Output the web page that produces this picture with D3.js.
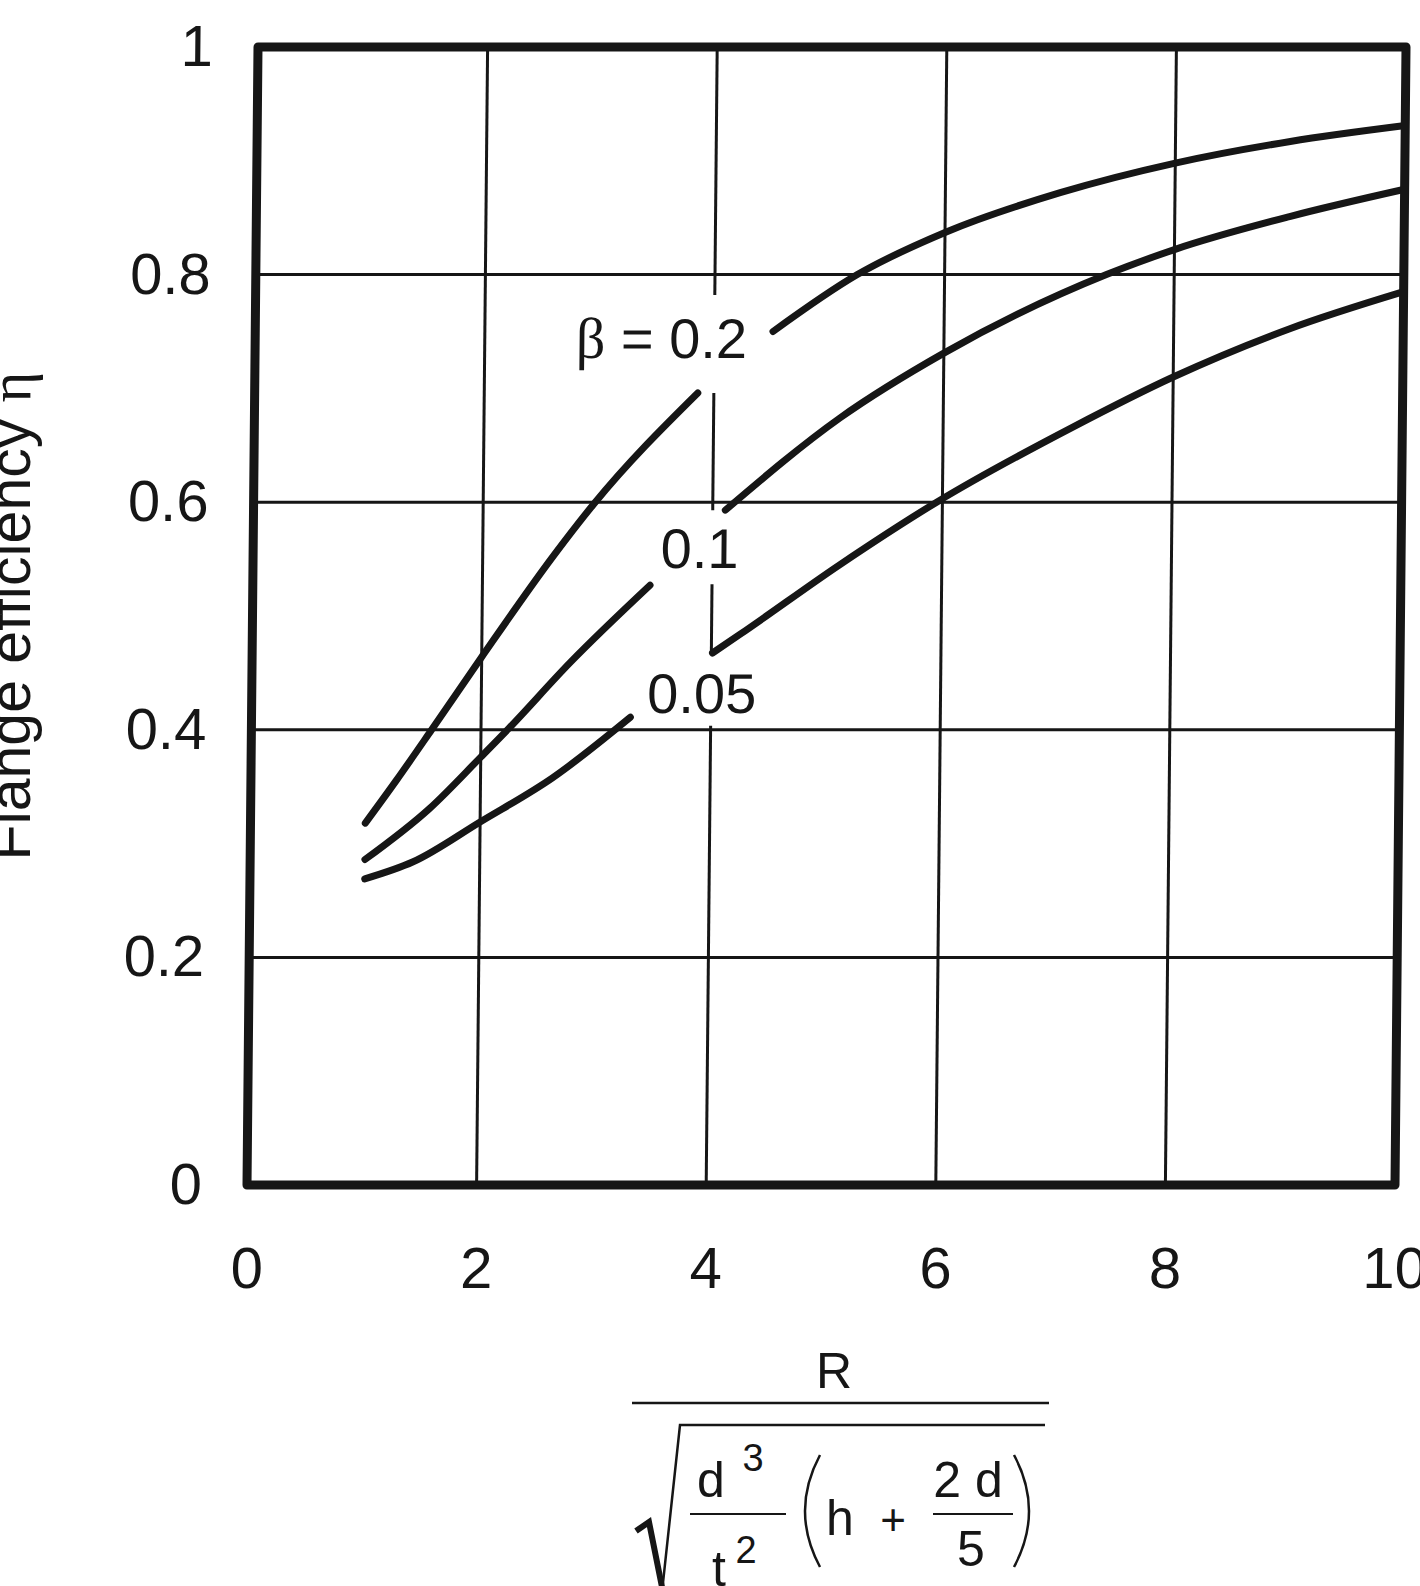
<!DOCTYPE html>
<html>
<head>
<meta charset="utf-8">
<script src="https://cdn.jsdelivr.net/npm/d3@7"></script>
<style>
  html, body { margin: 0; padding: 0; background: #fff; }
  svg { display: block; }
</style>
</head>
<body>
<div id="chart"></div>
<script>
// ticks
const xTicks = [0, 2, 4, 6, 8, 10];
const yTicks = [0, 0.2, 0.4, 0.6, 0.8, 1];

// curves, [x, efficiency]
const beta02 = [[1.0, 0.318], [1.27, 0.356], [1.57, 0.40], [2.0, 0.464], [2.61, 0.552], [2.96, 0.598],
    [3.86, 0.696], [4.51, 0.75], [5.24, 0.80], [6.0, 0.837], [7.0, 0.872], [8.0, 0.898], [9.0, 0.917], [10.0, 0.931]];
const beta01 = [[1.0, 0.286], [1.56, 0.331], [2.0, 0.376], [2.24, 0.401], [2.77, 0.459], [3.46, 0.527],
    [4.11, 0.593], [5.1, 0.674], [6.0, 0.731], [7.41, 0.80], [8.0, 0.822], [9.0, 0.851], [10.0, 0.875]];
const beta005 = [[1.0, 0.269], [1.42, 0.284], [2.0, 0.319], [2.63, 0.358], [3.3, 0.411], [4.01, 0.4675],
    [4.25, 0.484], [5.11, 0.545], [5.95, 0.60], [7.13, 0.666], [8.0, 0.710], [9.0, 0.752], [10.0, 0.785]];
const curves = [beta02, beta01, beta005];

// where each curve is broken for its label (x range)
const curveGaps = [[3.86, 4.51], [3.46, 4.11], [3.3, 4.01]];
const labels = ["0.2", "0.1", "0.05"];
// label anchor [x, y] and the stretch of the x = 4 gridline hidden behind it [y0, y1]
const labelAt = [[3.54, 0.727], [3.89, 0.542], [3.92, 0.415]];
const labelBreaks = [[0.696, 0.782], [0.528, 0.593], [0.4035, 0.4675]];

const W = 1420, H = 1586;
const margin = {top: 47, right: 25, bottom: 401, left: 247},
    width = W - margin.left - margin.right,
    height = H - margin.top - margin.bottom;

const svg = d3.select("#chart").append("svg")
    .attr("width", W)
    .attr("height", H)
    .style("font-family", "'Liberation Sans', Arial, sans-serif");

svg.append("rect").attr("width", W).attr("height", H).attr("fill", "#fff");

// the scan is slightly sheared, so lean the plot a touch
const plot = svg.append("g")
    .attr("transform", "translate(0," + (margin.top + height) + ") skewX(-0.554) translate(0," + (-(margin.top + height)) + ")")
    .append("g")
    .attr("transform", "translate(" + margin.left + "," + margin.top + ")");

var x = d3.scaleLinear().domain([0, 10]).range([0, width]);
var y = d3.scaleLinear().domain([0, 1]).range([height, 0]);

const ink = "#161616";

// grid
plot.append("g").selectAll("line")
    .data(xTicks.slice(1, -1))
    .join("line")
    .attr("x1", d => x(d)).attr("x2", d => x(d))
    .attr("y1", y(0)).attr("y2", y(1))
    .style("stroke", ink).style("stroke-width", 3);

plot.append("g").selectAll("line")
    .data(yTicks.slice(1, -1))
    .join("line")
    .attr("x1", x(0)).attr("x2", x(10))
    .attr("y1", d => y(d)).attr("y2", d => y(d))
    .style("stroke", ink).style("stroke-width", 3);

// white patches behind the labels break the x = 4 gridline
plot.append("g").selectAll("rect")
    .data(labelBreaks)
    .join("rect")
    .attr("x", x(4) - 8)
    .attr("width", 16)
    .attr("y", d => y(d[1]))
    .attr("height", d => y(d[0]) - y(d[1]))
    .attr("fill", "#fff");

// curves, each split in two round its label
const line = d3.line()
    .x(d => x(d[0]))
    .y(d => y(d[1]))
    .curve(d3.curveMonotoneX);

curves.forEach((data, i) => {
    const g = curveGaps[i];
    const pieces = [data.filter(d => d[0] <= g[0]), data.filter(d => d[0] >= g[1])];
    plot.append("g").selectAll("path")
        .data(pieces)
        .join("path")
        .attr("d", line)
        .style("fill", "none")
        .style("stroke", ink)
        .style("stroke-width", 7)
        .style("stroke-linecap", "round");
});

// curve labels
const lab = plot.append("g").selectAll("text")
    .data(labels)
    .join("text")
    .attr("x", (d, i) => x(labelAt[i][0]))
    .attr("y", (d, i) => y(labelAt[i][1]))
    .attr("text-anchor", "middle")
    .style("font-size", "56px")
    .style("fill", ink);
lab.each(function(d, i) {
    const t = d3.select(this);
    if (i === 0) {
        t.append("tspan").style("font-family", "'Liberation Serif', 'DejaVu Serif', serif").style("font-size", "58px").text("β");
        t.append("tspan").text(" = " + d);
    } else {
        t.text(d);
    }
});

// axes (text only)
const xAxis = plot.append("g")
    .attr("transform", "translate(0," + height + ")")
    .call(d3.axisBottom(x).tickValues(xTicks).tickSize(0).tickPadding(62).tickFormat(d => d));
const yAxis = plot.append("g")
    .call(d3.axisLeft(y).tickValues(yTicks).tickSize(0).tickPadding(45).tickFormat(d => d));
[xAxis, yAxis].forEach(a => {
    a.select(".domain").remove();
    a.selectAll("text")
        .style("font-family", "'Liberation Sans', Arial, sans-serif")
        .style("font-size", "58px")
        .style("fill", ink);
});

// frame
plot.append("rect")
    .attr("x", x(0)).attr("y", y(1))
    .attr("width", x(10) - x(0)).attr("height", y(0) - y(1))
    .style("fill", "none")
    .style("stroke", ink)
    .style("stroke-width", 9)
    .style("stroke-linejoin", "round");

// y title
const yt = svg.append("text")
    .attr("transform", "translate(30,616) rotate(-90)")
    .attr("text-anchor", "middle")
    .style("font-size", "59px")
    .style("fill", ink);
yt.append("tspan").text("Flange efficiency ");
yt.append("tspan").style("font-family", "'Liberation Serif', 'DejaVu Serif', serif").text("η");

// x title: R / sqrt( d^3/t^2 (h + 2d/5) )
const xt = svg.append("g").style("fill", ink).style("font-size", "50px");
const txt = (s, px, py, size) => xt.append("text")
    .attr("x", px).attr("y", py)
    .attr("text-anchor", "middle")
    .style("font-size", size ? size + "px" : null)
    .text(s);
const rule = (x1, x2, yy, w) => xt.append("line")
    .attr("x1", x1).attr("x2", x2).attr("y1", yy).attr("y2", yy)
    .style("stroke", ink).style("stroke-width", w);

txt("R", 834, 1388);
rule(632, 1049, 1403, 2.5);

xt.append("path").attr("d", "M636,1531 L649,1522 L663,1592")
    .style("fill", "none").style("stroke", ink).style("stroke-width", 6);
xt.append("path").attr("d", "M662,1592 L680,1425 L1045,1425")
    .style("fill", "none").style("stroke", ink).style("stroke-width", 2.5);

txt("d", 711, 1497);
txt("3", 753, 1471, 38);
rule(690, 786, 1514, 2);
txt("t", 719, 1586);
txt("2", 746, 1563, 38);

xt.append("path").attr("d", "M820,1455 Q790,1511 820,1567")
    .style("fill", "none").style("stroke", ink).style("stroke-width", 2.5);
txt("h", 840, 1535);
txt("+", 893, 1535, 44);
txt("2 d", 968, 1497);
rule(933, 1013, 1514, 2);
txt("5", 971, 1566);
xt.append("path").attr("d", "M1014,1455 Q1044,1511 1014,1567")
    .style("fill", "none").style("stroke", ink).style("stroke-width", 2.5);
</script>
</body>
</html>
